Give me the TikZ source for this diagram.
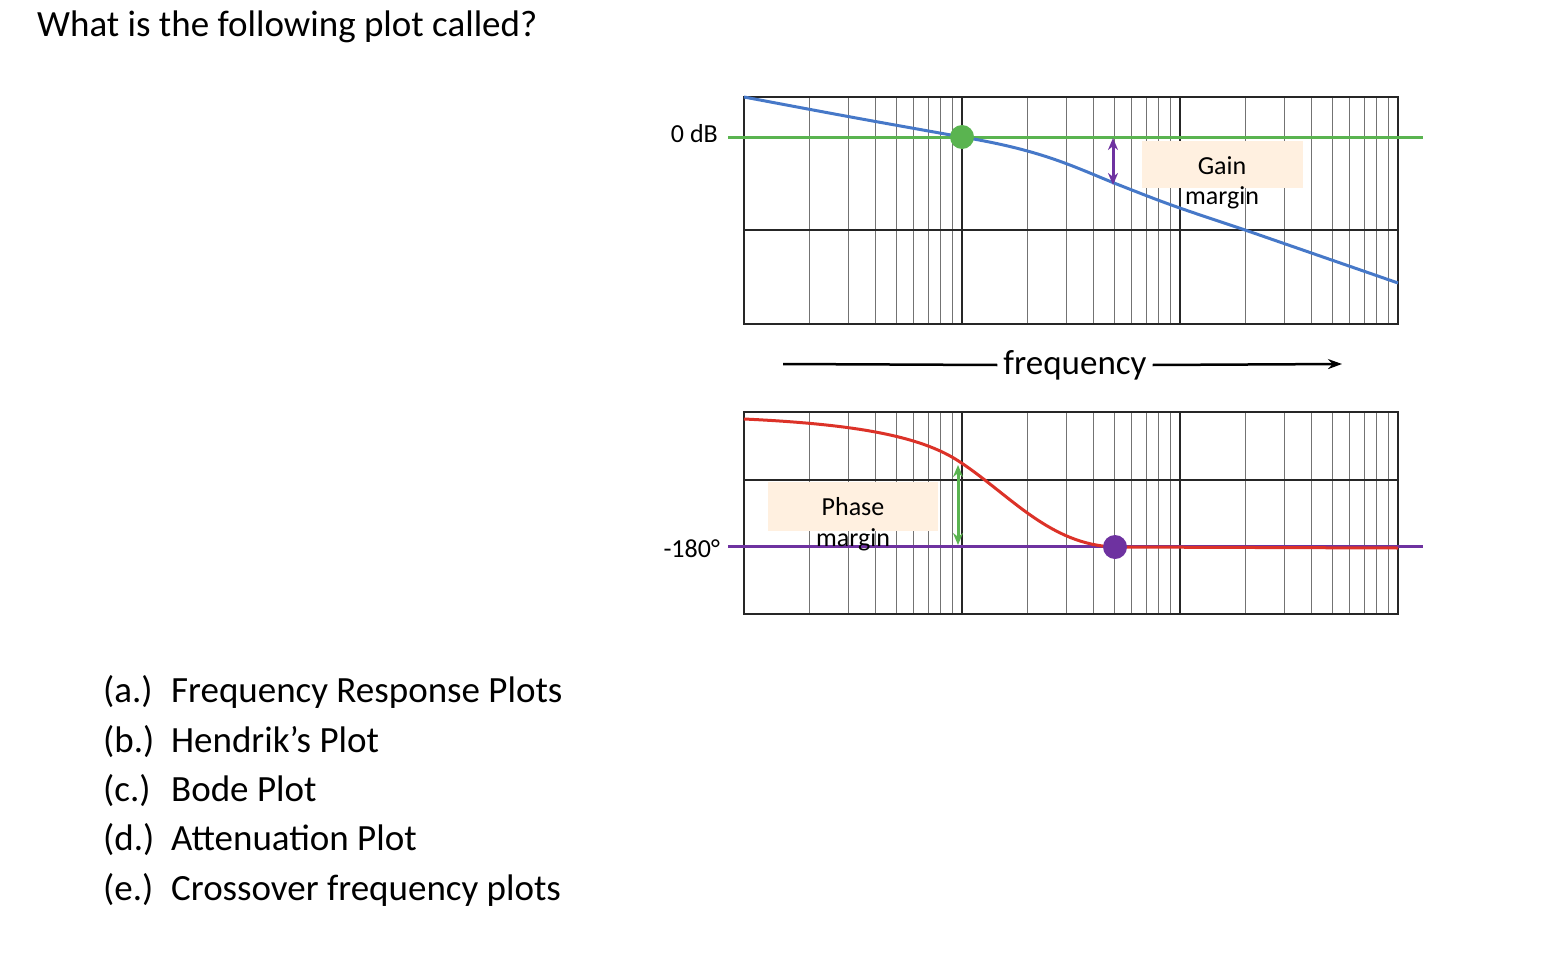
\documentclass[tikz,border=0pt]{standalone}
\usepackage{fontspec}
\setmainfont{Carlito}
\usetikzlibrary{arrows.meta}
\begin{document}
\begin{tikzpicture}[x=1pt,y=-1pt,
  minor/.style={draw=black!55,line width=1pt},
  major/.style={draw=black!85,line width=1.6pt},
  lbl/.style={inner sep=0pt,font=\fontsize{26}{30}\selectfont},
  opt/.style={anchor=west,inner sep=0pt,font=\fontsize{37}{42}\selectfont},
  marr/.style={{Stealth[length=12pt,width=10pt]}-{Stealth[length=12pt,width=10pt]},line width=3pt},
  beige/.style={fill=orange!12,draw=none}]
\useasboundingbox (0,0) rectangle (1557,963);
\node[anchor=west,inner sep=0pt,font=\fontsize{37}{42}\selectfont] (title) at (37,27) {What is the following plot called?};
% grids
\foreach \ya/\yb/\ym in {97/324/230, 412/614/480}{
  \foreach \d in {744,962,1180}{
    \foreach \k in {2,...,9}{
      \draw[minor] ({\d+218*log10(\k)},\ya) -- ({\d+218*log10(\k)},\yb);
    }
  }
  \foreach \d in {962,1180}{\draw[major] (\d,\ya) -- (\d,\yb);}
  \draw[major] (744,\ym) -- (1398,\ym);
  \draw[major] (744,\ya) rectangle (1398,\yb);
}
% gain plot
\coordinate (gc) at (962,137);
\draw[line width=3pt,draw={rgb,255:red,90;green,180;blue,80}] (728,137) -- (1423,137);
\draw[line width=3pt,draw={rgb,255:red,70;green,120;blue,200}] (744,97) .. controls (850,117) .. (962,137) .. controls (1040,150) and (1070,165) .. (1114,183) .. controls (1170,205) .. (1245,230) -- (1398,283);
\fill[fill={rgb,255:red,90;green,180;blue,80}] (gc) circle (12);
\coordinate (ga) at (1113,138); \coordinate (gb) at (1113,185);
\draw[marr,draw={rgb,255:red,110;green,50;blue,160}] (ga) -- (gb);
\node[beige,minimum width=161,minimum height=47] (gbox) at (1222.5,164.5) {};
\node[lbl] (gain) at (1222,166) {Gain};
\node[lbl] (gm) at (1222,198) {margin};
\node[lbl,anchor=east] (odb) at (718,134) {0 dB};
% frequency arrow
\node[inner sep=0pt,outer sep=6pt,font=\fontsize{35}{40}\selectfont] (freq) at (1075,365) {frequency};
\coordinate (fa) at (783,364); \coordinate (fb) at (1342,364);
\draw[line width=2.5pt] (fa) -- (freq.west);
\draw[line width=2.5pt,-{Stealth[length=14pt,width=10pt]}] (freq.east) -- (fb);
% phase plot
\coordinate (pc) at (1115,547);
\draw[line width=3pt,draw={rgb,255:red,110;green,50;blue,160}] (728,546) -- (1423,546);
\draw[line width=3pt,draw={rgb,255:red,220;green,50;blue,40}] (744,419) .. controls (850,424) and (920,435) .. (960,462) .. controls (1010,495) and (1050,545) .. (1115,547) -- (1398,548);
\fill[fill={rgb,255:red,110;green,50;blue,160}] (pc) circle (12);
\coordinate (pa) at (958,465); \coordinate (pb) at (958,545);
\draw[marr,draw={rgb,255:red,90;green,180;blue,80}] (pa) -- (pb);
\node[beige,minimum width=170,minimum height=49] (pbox) at (853,506.5) {};
\node[lbl] (phase) at (853,507) {Phase};
\node[lbl] (pm) at (853,540) {margin};
\node[lbl,anchor=east] (m180) at (720,549) {-180°};
% options
\node[opt] (a) at (103,692) {\makebox[68pt][l]{(a.)}Frequency Response Plots};
\node[opt] (b) at (103,742) {\makebox[68pt][l]{(b.)}Hendrik’s Plot};
\node[opt] (c) at (103,791) {\makebox[68pt][l]{(c.)}Bode Plot};
\node[opt] (d) at (103,840) {\makebox[68pt][l]{(d.)}Attenuation Plot};
\node[opt] (e) at (103,890) {\makebox[68pt][l]{(e.)}Crossover frequency plots};
\end{tikzpicture}
\end{document}
